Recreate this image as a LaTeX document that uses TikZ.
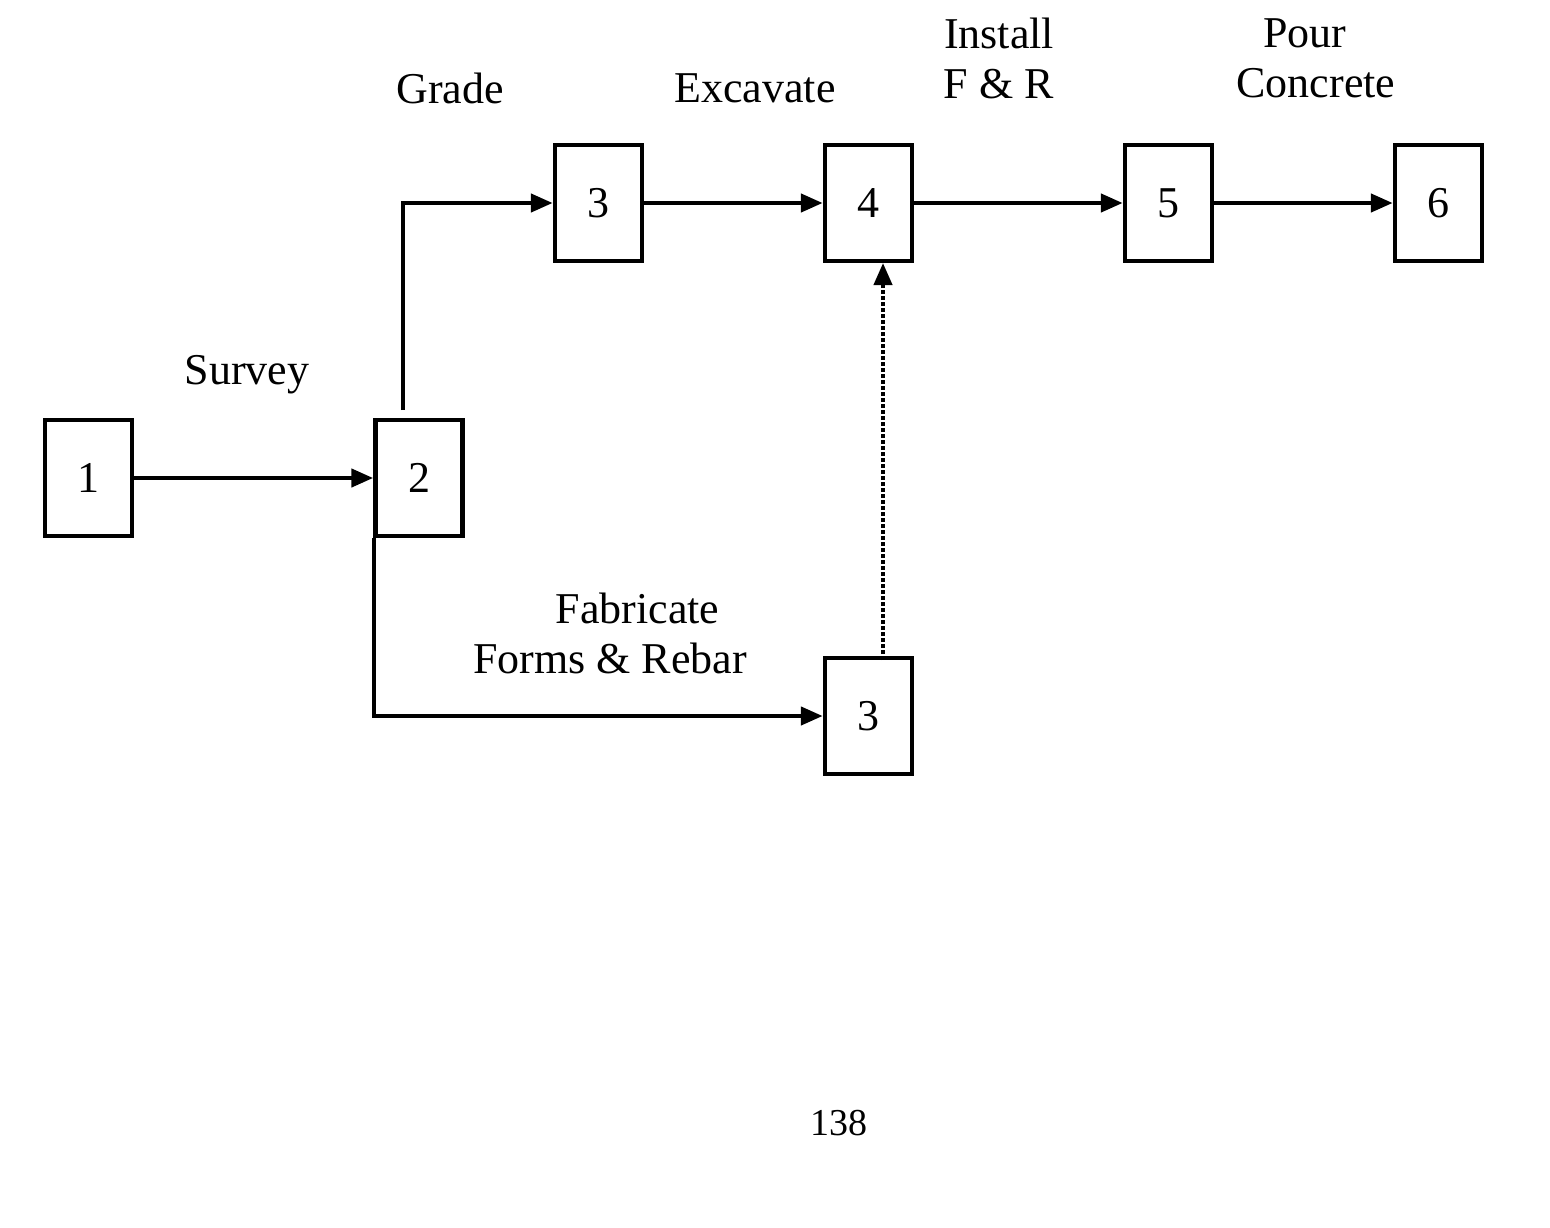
\documentclass[tikz,border=0pt]{standalone}
\usepackage{fontspec}
\setmainfont{Liberation Serif}
\usetikzlibrary{arrows.meta}
\begin{document}
\begin{tikzpicture}[x=1pt,y=-1pt,
  box/.style={draw,line width=4.5pt,minimum width=87pt,minimum height=116pt,inner sep=0pt,font=\fontsize{44}{44}\selectfont},
  lbl/.style={font=\fontsize{44}{50}\selectfont,inner sep=0pt,align=center},
  con/.style={line width=4.5pt,-{Triangle[length=22pt,width=18pt]}}]
\useasboundingbox (0,0) rectangle (1550,1228);
\node[box] (b1) at (88.5,478) {1};
\node[box] (b2) at (419,478) {2};
\node[box] (b3) at (598.5,203) {3};
\node[box] (b4) at (868.5,203) {4};
\node[box] (b5) at (1168.5,203) {5};
\node[box] (b6) at (1438.5,203) {6};
\node[box] (b7) at (868.5,716) {3};
\coordinate (u) at (403,410);
\coordinate (d) at (374,538);
\draw[con] (b1) -- (b2);
\draw[con] (u) |- (b3);
\draw[con] (b3) -- (b4);
\draw[con] (b4) -- (b5);
\draw[con] (b5) -- (b6);
\draw[con] (d) |- (b7);
\draw[line width=4pt,dotted,-{Triangle[length=22pt,width=18pt]}] (883,660) -- (883,263);
\node[lbl] (t1) at (450,88) {Grade};
\node[lbl] (t2) at (755,88) {Excavate};
\node[lbl] (t3) at (999,58) {Install\\F \& R};
\node[lbl] (t4) at (1305,58) {Pour\\\ \ Concrete};
\node[lbl] (t5) at (247,375) {Survey};
\node[lbl] (t6) at (610,633) {\ \ \ \ \ Fabricate\\Forms \& Rebar};
\node[font=\fontsize{38}{38}\selectfont,inner sep=0pt] (pg) at (839,1123) {138};
\end{tikzpicture}
\end{document}
